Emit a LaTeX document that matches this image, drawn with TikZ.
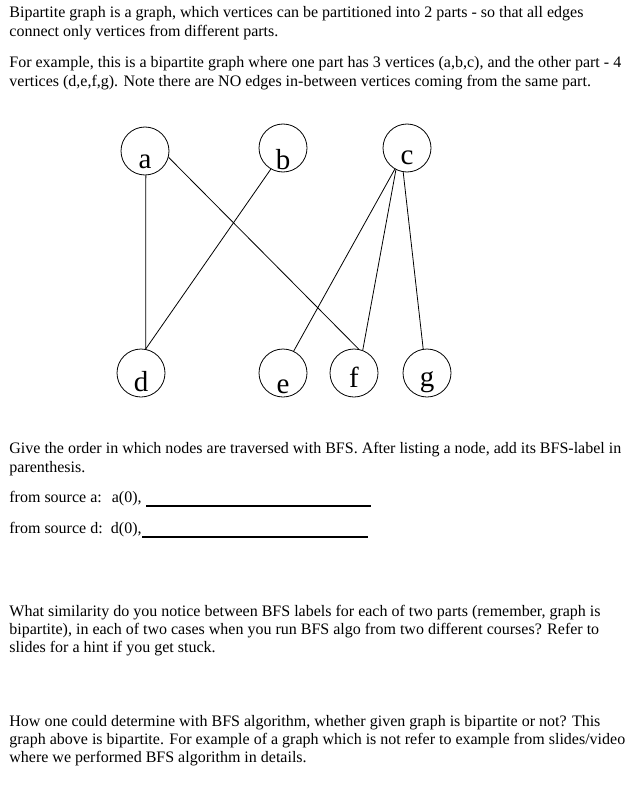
\documentclass[tikz,border=0pt]{standalone}
\usepackage{fontspec}
\setmainfont{Liberation Serif}

\begin{document}
\begin{tikzpicture}[x=1pt,y=-1pt,line width=0.8pt]
	\tikzstyle{vertex}=[circle,draw,minimum size=48pt,inner sep=0pt,text depth=0pt,font=\fontsize{29}{29}\selectfont]
	\tikzstyle{para}=[anchor=base west,inner sep=0pt,align=left,font=\fontsize{16}{18.4}\selectfont]
	\tikzstyle{blank}=[line width=1.2pt]
	\useasboundingbox (0,0) rectangle (639,797);

	% multi-line nodes are placed by the baseline of their last line
	\node[para] (intro) at (9,36.4) {Bipartite graph is a graph, which vertices can be partitioned into 2 parts - so that all edges\\connect only vertices from different parts.};
	\node[para] (example) at (9,86.4) {For example, this is a bipartite graph where one part has 3 vertices (a,b,c), and the other part - 4\\vertices (d,e,f,g). Note there are NO edges in-between vertices coming from the same part.};

	% the graph, letters sit low in the circles
	\foreach \name/\x/\y/\h in {a/145/151/34pt, b/283/148/43pt, c/407/148/32pt, d/141/373/36pt, e/283/373/40pt, f/354/373/28pt, g/427/373/26pt}
		\node[vertex,text height=\h] (\name) at (\x,\y) {\name};

	\path
	(a.-88) edge (d.79)
	(a.-15) edge (f.79)
	(b.-120) edge (d.79)
	(c.-120) edge (e.64)
	(c.-117) edge (f.69)
	(c.-99) edge (g.99);

	\node[para] (task) at (9,472) {Give the order in which nodes are traversed with BFS. After listing a node, add its BFS-label in\\parenthesis.};
	\node[para] (srca) at (9,502) {from source a:};
	\node[para,anchor=base east] (starta) at (142,502) {a(0),};
	\draw[blank] (146,506) -- (371,506);
	\node[para] (srcd) at (9,533) {from source d:};
	\node[para,anchor=base east] (startd) at (142,533) {d(0),};
	\draw[blank] (142,537) -- (368,537);

	\node[para] (similar) at (9,652.8) {What similarity do you notice between BFS labels for each of two parts (remember, graph is\\bipartite), in each of two cases when you run BFS algo from two different courses? Refer to\\slides for a hint if you get stuck.};
	\node[para] (howto) at (9,762.8) {How one could determine with BFS algorithm, whether given graph is bipartite or not? This\\graph above is bipartite. For example of a graph which is not refer to example from slides/video\\where we performed BFS algorithm in details.};
\end{tikzpicture}
\end{document}
